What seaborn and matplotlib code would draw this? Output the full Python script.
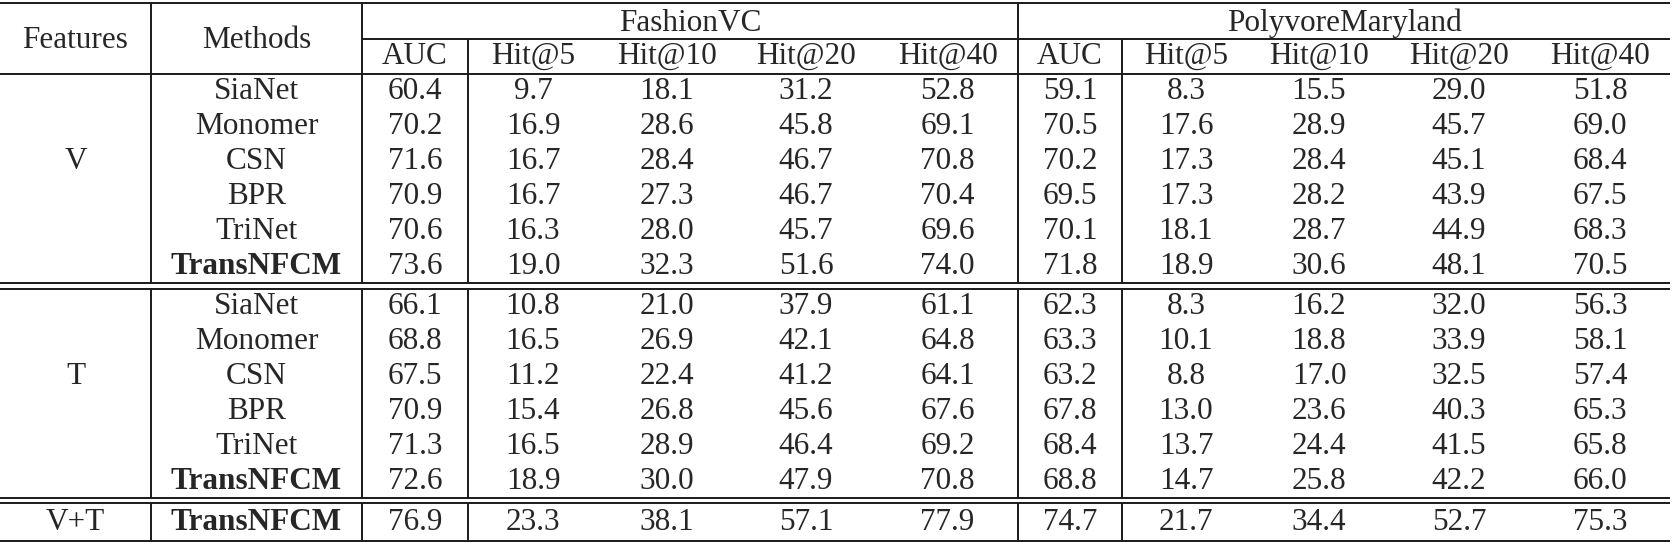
import matplotlib
matplotlib.use("Agg")
import matplotlib.pyplot as plt
import seaborn as sns

# table content
FEATURES = ["V", "T", "V+T"]
METHODS = ["SiaNet", "Monomer", "CSN", "BPR", "TriNet", "TransNFCM"]
METHODS_VT = ["TransNFCM"]
DATASETS = ["FashionVC", "PolyvoreMaryland"]
METRICS = ["AUC", "Hit@5", "Hit@10", "Hit@20", "Hit@40"]

FASHION_V = [
    [60.4, 9.7, 18.1, 31.2, 52.8],
    [70.2, 16.9, 28.6, 45.8, 69.1],
    [71.6, 16.7, 28.4, 46.7, 70.8],
    [70.9, 16.7, 27.3, 46.7, 70.4],
    [70.6, 16.3, 28.0, 45.7, 69.6],
    [73.6, 19.0, 32.3, 51.6, 74.0],
]
POLY_V = [
    [59.1, 8.3, 15.5, 29.0, 51.8],
    [70.5, 17.6, 28.9, 45.7, 69.0],
    [70.2, 17.3, 28.4, 45.1, 68.4],
    [69.5, 17.3, 28.2, 43.9, 67.5],
    [70.1, 18.1, 28.7, 44.9, 68.3],
    [71.8, 18.9, 30.6, 48.1, 70.5],
]
FASHION_T = [
    [66.1, 10.8, 21.0, 37.9, 61.1],
    [68.8, 16.5, 26.9, 42.1, 64.8],
    [67.5, 11.2, 22.4, 41.2, 64.1],
    [70.9, 15.4, 26.8, 45.6, 67.6],
    [71.3, 16.5, 28.9, 46.4, 69.2],
    [72.6, 18.9, 30.0, 47.9, 70.8],
]
POLY_T = [
    [62.3, 8.3, 16.2, 32.0, 56.3],
    [63.3, 10.1, 18.8, 33.9, 58.1],
    [63.2, 8.8, 17.0, 32.5, 57.4],
    [67.8, 13.0, 23.6, 40.3, 65.3],
    [68.4, 13.7, 24.4, 41.5, 65.8],
    [68.8, 14.7, 25.8, 42.2, 66.0],
]
FASHION_VT = [[76.9, 23.3, 38.1, 57.1, 77.9]]
POLY_VT = [[74.7, 21.7, 34.4, 52.7, 75.3]]

BOLD_METHOD = "TransNFCM"

sns.set_theme(style="white")
plt.rcParams["font.family"] = ["Liberation Serif", "DejaVu Serif"]

W, H = 1676, 544
fig = plt.figure(figsize=(W / 100, H / 100), dpi=100)
ax = fig.add_axes([0, 0, 1, 1])
ax.set_xlim(0, W)
ax.set_ylim(H, 0)
ax.axis("off")

FS = 22.5
LW = 1.4
LC = "#1a1a1a"

# column geometry (pixels)
x_feat_edge, x_meth_edge = 151, 362
fashion_edges = [362, 468, 598, 735, 877, 1018]
poly_edges = [1018, 1122, 1250, 1388, 1530, 1670]
x_right = 1670


def centers(edges):
    return [(a + b) / 2 for a, b in zip(edges[:-1], edges[1:])]


fashion_cx = centers(fashion_edges)
poly_cx = centers(poly_edges)

# row blocks: (top, bottom, baseline offset, pitch)
blocks = [(74, 283, 25, 35), (289, 498, 25, 35), (503, 541, 27, 35)]
y_top, y_sub = 3, 39

# header text
ax.text(x_feat_edge / 2, 48, "Features", ha="center", va="baseline", fontsize=FS)
ax.text((x_feat_edge + x_meth_edge) / 2, 48, "Methods", ha="center", va="baseline", fontsize=FS)
for name, edges in zip(DATASETS, [fashion_edges, poly_edges]):
    ax.text((edges[0] + edges[-1]) / 2, 31, name, ha="center", va="baseline", fontsize=FS)
for cx_list in [fashion_cx, poly_cx]:
    for cx, m in zip(cx_list, METRICS):
        ax.text(cx, 64, m, ha="center", va="baseline", fontsize=FS)

# body
groups = [
    (FEATURES[0], METHODS, FASHION_V, POLY_V),
    (FEATURES[1], METHODS, FASHION_T, POLY_T),
    (FEATURES[2], METHODS_VT, FASHION_VT, POLY_VT),
]
for (top, bottom, off, pitch), (feat, meths, fvals, pvals) in zip(blocks, groups):
    baselines = [top + off + i * pitch for i in range(len(meths))]
    mid = baselines[(len(baselines) - 1) // 2]
    ax.text(x_feat_edge / 2, mid, feat, ha="center", va="baseline", fontsize=FS)
    for yb, meth, frow, prow in zip(baselines, meths, fvals, pvals):
        ax.text((x_feat_edge + x_meth_edge) / 2, yb, meth, ha="center", va="baseline",
                fontsize=FS, fontweight="bold" if meth == BOLD_METHOD else "normal")
        for cx, v in zip(fashion_cx, frow):
            ax.text(cx, yb, f"{v:.1f}", ha="center", va="baseline", fontsize=FS)
        for cx, v in zip(poly_cx, prow):
            ax.text(cx, yb, f"{v:.1f}", ha="center", va="baseline", fontsize=FS)

# horizontal rules
ax.hlines([y_top, 74, 283, 289, 498, 503, 541], 0, x_right, colors=LC, lw=LW)
ax.hlines(y_sub, x_meth_edge, x_right, colors=LC, lw=LW)

# vertical rules (broken between double lines)
segments = [(y_top, 283), (289, 498), (503, 541)]
for x in [x_feat_edge, x_meth_edge, fashion_edges[-1]]:
    for a, b in segments:
        ax.vlines(x, a, b, colors=LC, lw=LW)
for x in [fashion_edges[1], poly_edges[1]]:
    for a, b in [(y_sub, 283), (289, 498), (503, 541)]:
        ax.vlines(x, a, b, colors=LC, lw=LW)

fig.savefig("out.png", dpi=100, facecolor="white")
